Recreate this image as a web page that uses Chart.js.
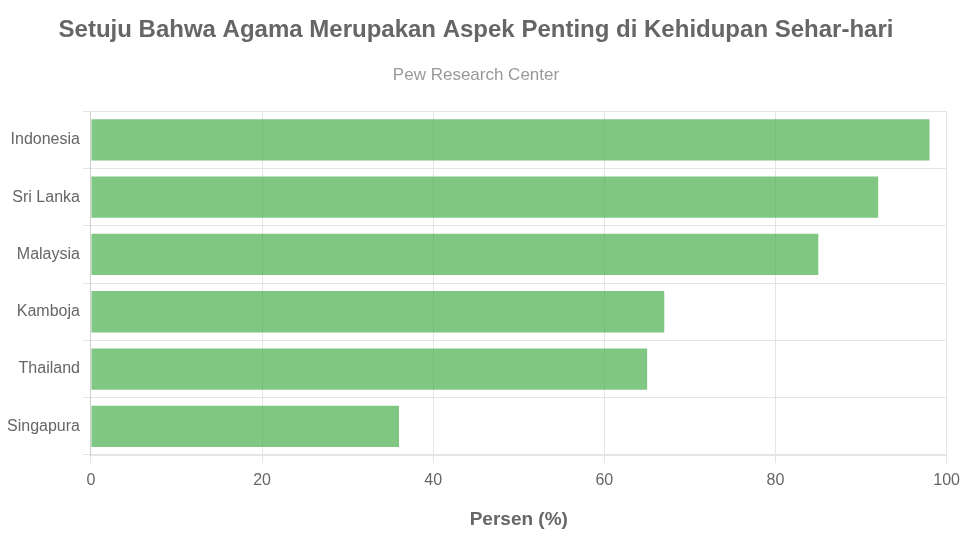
<!DOCTYPE html>
<html>
<head>
<meta charset="utf-8">
<script src="https://cdn.jsdelivr.net/npm/chart.js@4"></script>
<style>
  html, body { margin: 0; padding: 0; background: #fff; }
  #wrap { width: 968px; height: 543px; }
</style>
</head>
<body>
<div id="wrap"><canvas id="grafico"></canvas></div>
<script>
const negara = ['Indonesia', 'Sri Lanka', 'Malaysia', 'Kamboja', 'Thailand', 'Singapura'];
const persen = [98, 92, 85, 67, 65, 36];

const ctx = document.getElementById('grafico').getContext('2d');
new Chart(ctx, {
    type: 'bar',
    data: {
        labels: negara,
        datasets: [{
            label: 'Persen',
            data: persen,
            backgroundColor: 'rgba(76, 175, 80, 0.7)',
            borderWidth: 0
        }]
    },
    options: {
        indexAxis: 'y',
        responsive: true,
        maintainAspectRatio: false,
        animation: false,
        layout: { padding: { left: 4, right: 20, bottom: 8 } },
        plugins: {
            legend: { display: false },
            title: {
                display: true,
                text: 'Setuju Bahwa Agama Merupakan Aspek Penting di Kehidupan Sehar-hari',
                color: '#666',
                font: { family: 'Arial, Liberation Sans', size: 24, weight: 'bold' },
                padding: { top: 16, bottom: 20 }
            },
            subtitle: {
                display: true,
                text: 'Pew Research Center',
                color: '#999',
                font: { family: 'Arial, Liberation Sans', size: 17 },
                padding: { bottom: 26 }
            }
        },
        scales: {
            x: {
                beginAtZero: true,
                max: 100,
                ticks: { stepSize: 20, color: '#666', font: { size: 16 }, padding: 8 },
                grid: { color: '#e5e5e5' },
                title: {
                    display: true,
                    text: 'Persen (%)',
                    color: '#666',
                    font: { size: 19, weight: 'bold' },
                    padding: { top: 10 }
                }
            },
            y: {
                ticks: { color: '#666', font: { size: 16 } },
                grid: { color: '#e5e5e5' }
            }
        }
    }
});
</script>
</body>
</html>
